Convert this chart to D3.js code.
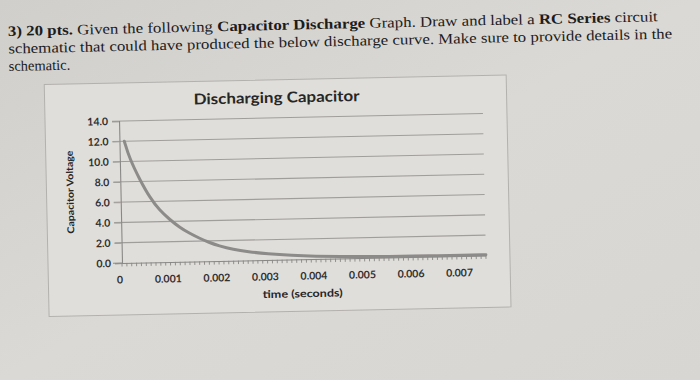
<!DOCTYPE html>
<html>
<head>
<meta charset="utf-8">
<script src="https://cdn.jsdelivr.net/npm/d3@7"></script>
<style>
  html, body { margin: 0; padding: 0; background: #d8d6d3; }
  svg { display: block; }
</style>
</head>
<body>
<svg id="chart" width="700" height="380"></svg>
<script>
// ---- data ----
const times = [0.0001, 0.0002, 0.0004, 0.0006, 0.0008, 0.001, 0.0012, 0.0014, 0.0016, 0.0018, 0.002, 0.0023, 0.0026, 0.003, 0.0035, 0.004, 0.0045, 0.005, 0.0055, 0.006, 0.0065, 0.007, 0.0075];
const voltages = [12.0, 10.3, 8.2, 6.4, 5.1, 4.2, 3.4, 2.8, 2.3, 1.85, 1.5, 1.1, 0.85, 0.6, 0.4, 0.27, 0.18, 0.13, 0.1, 0.08, 0.07, 0.06, 0.06];
const xTickValues = [0, 0.001, 0.002, 0.003, 0.004, 0.005, 0.006, 0.007];
const xTickLabels = ["0", "0.001", "0.002", "0.003", "0.004", "0.005", "0.006", "0.007"];
const yTickValues = [0, 2, 4, 6, 8, 10, 12, 14];
const yTickLabels = ["0.0", "2.0", "4.0", "6.0", "8.0", "10.0", "12.0", "14.0"];
const chartTitle = "Discharging Capacitor";
const xTitle = "time (seconds)";
const yTitle = "Capacitor Voltage";

const svg = d3.select("#chart");

// paper background
const defs = svg.append("defs");
const bg = defs.append("linearGradient").attr("id", "paper")
  .attr("x1", "0").attr("y1", "0").attr("x2", "1").attr("y2", "1");
bg.append("stop").attr("offset", "0").attr("stop-color", "#d1cfcc");
bg.append("stop").attr("offset", "0.5").attr("stop-color", "#dbd9d6");
bg.append("stop").attr("offset", "1").attr("stop-color", "#d8d6d3");
svg.append("rect").attr("width", 700).attr("height", 380).attr("fill", "url(#paper)");

// question text
const q = svg.append("g").attr("transform", "rotate(-1.3, 8, 36)")
  .attr("font-family", "'Liberation Serif', 'DejaVu Serif', serif")
  .attr("font-size", 14.5).attr("fill", "#1c1c1c");
const l1 = q.append("text").attr("x", 8).attr("y", 36)
  .attr("textLength", 650).attr("lengthAdjust", "spacingAndGlyphs");
l1.append("tspan").attr("font-weight", "bold").text("3) 20 pts.");
l1.append("tspan").text(" Given the following ");
l1.append("tspan").attr("font-weight", "bold").text("Capacitor Discharge");
l1.append("tspan").text(" Graph.  Draw and label a ");
l1.append("tspan").attr("font-weight", "bold").text("RC Series");
l1.append("tspan").text(" circuit");
q.append("text").attr("x", 8).attr("y", 53.5)
  .attr("textLength", 664).attr("lengthAdjust", "spacingAndGlyphs")
  .text("schematic that could have produced the below discharge curve.  Make sure to provide details in the");
q.append("text").attr("x", 8).attr("y", 71).text("schematic.");

// chart group (slightly rotated like the photo)
const g = svg.append("g").attr("transform", "rotate(-1.2, 123, 263)");

g.append("rect").attr("x", 48).attr("y", 83).attr("width", 462).attr("height", 232)
  .attr("fill", "#e0dedb").attr("stroke", "#b3b1ae").attr("stroke-width", 1);

const x = d3.scaleLinear().domain([0, 0.0075]).range([122, 486]);
const y = d3.scaleLinear().domain([0, 14]).range([263, 121]);

const font = "Lato, 'Open Sans', 'Liberation Sans', sans-serif";

// gridlines
g.append("g").selectAll("line").data(yTickValues.filter(v => v > 0)).join("line")
  .attr("x1", x(0) - 7).attr("x2", x(0.0075))
  .attr("y1", d => y(d)).attr("y2", d => y(d))
  .attr("stroke", "#a09e9b").attr("stroke-width", 1.1);

// y axis
const yAxis = d3.axisLeft(y).tickValues(yTickValues)
  .tickFormat((d, i) => yTickLabels[i]).tickSize(7).tickPadding(4);
const ya = g.append("g").attr("transform", `translate(${x(0)},0)`).call(yAxis);
ya.select(".domain").attr("stroke", "#8a8886").attr("stroke-width", 1.1);
ya.selectAll(".tick line").attr("stroke", "#a09e9b");
ya.selectAll(".tick text").attr("font-family", font).attr("font-weight", "bold")
  .attr("font-size", 10.5).attr("fill", "#303030");

// x axis minor ticks
const minor = d3.range(0, 76).map(i => i * 0.0001);
g.append("g").selectAll("line").data(minor).join("line")
  .attr("x1", d => x(d)).attr("x2", d => x(d))
  .attr("y1", y(0)).attr("y2", y(0) + 3.5)
  .attr("stroke", "#8a8886").attr("stroke-width", 0.9);

// x axis
const xAxis = d3.axisBottom(x).tickValues(xTickValues)
  .tickFormat((d, i) => xTickLabels[i]).tickSize(0).tickPadding(13);
const xa = g.append("g").attr("transform", `translate(0,${y(0)})`).call(xAxis);
xa.select(".domain").attr("stroke", "#8a8886").attr("stroke-width", 1.1);
xa.selectAll(".tick text").attr("font-family", font).attr("font-weight", "bold")
  .attr("font-size", 10.5).attr("fill", "#303030").attr("transform", "translate(-3,0)");
g.append("line").attr("x1", x(0) - 9).attr("x2", x(0))
  .attr("y1", y(0)).attr("y2", y(0)).attr("stroke", "#8a8886");

// curve
const pts = times.map((t, i) => [t, voltages[i]]);
g.append("path").datum(pts)
  .attr("fill", "none").attr("stroke", "#8d8b89").attr("stroke-width", 3)
  .attr("stroke-linecap", "round")
  .attr("d", d3.line().x(d => x(d[0])).y(d => y(d[1])).curve(d3.curveBasis));

// titles
g.append("text").attr("x", 280).attr("y", 106).attr("text-anchor", "middle")
  .attr("font-family", font).attr("font-weight", "bold").attr("font-size", 15)
  .attr("fill", "#262626").attr("textLength", 166).attr("lengthAdjust", "spacingAndGlyphs")
  .text(chartTitle);
g.append("text").attr("x", 302).attr("y", 301).attr("text-anchor", "middle")
  .attr("font-family", font).attr("font-weight", "bold").attr("font-size", 10.5)
  .attr("fill", "#262626").attr("textLength", 80).attr("lengthAdjust", "spacingAndGlyphs")
  .text(xTitle);
g.append("text").attr("transform", "translate(75,191) rotate(-90)").attr("text-anchor", "middle")
  .attr("font-family", font).attr("font-weight", "bold").attr("font-size", 9.5)
  .attr("fill", "#262626").attr("textLength", 83).attr("lengthAdjust", "spacingAndGlyphs")
  .text(yTitle);
</script>
</body>
</html>
